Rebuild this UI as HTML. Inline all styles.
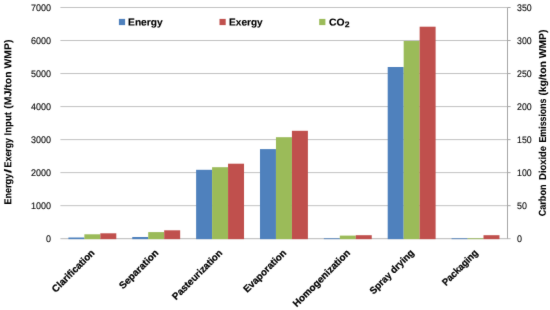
<!DOCTYPE html>
<html lang="en"><head><meta charset="utf-8"><title>Energy, Exergy and CO2 by process</title>
<style>html,body{margin:0;padding:0;background:#fff}body{width:550px;height:310px;overflow:hidden}svg{display:block}text{font-family:"Liberation Sans",sans-serif;fill:#111;text-rendering:geometricPrecision}.k{stroke:#111;stroke-width:0.15px}.b{font-weight:bold;fill:#000}.c{stroke:#000;stroke-width:0.25px}.t{stroke:#000;stroke-width:0.1px}.l{stroke:#000;stroke-width:0.15px}</style></head><body>
<svg width="550" height="310" viewBox="0 0 550 310">
<defs><filter id="soft" filterUnits="userSpaceOnUse" x="0" y="0" width="550" height="310" color-interpolation-filters="sRGB"><feConvolveMatrix order="3" kernelMatrix="0.01 0.06 0.01 0.06 0.72 0.06 0.01 0.06 0.01" divisor="1" edgeMode="duplicate" preserveAlpha="true"/></filter></defs>
<g filter="url(#soft)">
<rect width="550" height="310" fill="#fff"/>
<line x1="60.4" x2="507.6" y1="205.67" y2="205.67" stroke="#c2c2c2" stroke-width="1"/>
<line x1="60.4" x2="507.6" y1="172.64" y2="172.64" stroke="#c2c2c2" stroke-width="1"/>
<line x1="60.4" x2="507.6" y1="139.61" y2="139.61" stroke="#c2c2c2" stroke-width="1"/>
<line x1="60.4" x2="507.6" y1="106.59" y2="106.59" stroke="#c2c2c2" stroke-width="1"/>
<line x1="60.4" x2="507.6" y1="73.56" y2="73.56" stroke="#c2c2c2" stroke-width="1"/>
<line x1="60.4" x2="507.6" y1="40.53" y2="40.53" stroke="#c2c2c2" stroke-width="1"/>
<line x1="60.4" x2="507.6" y1="7.50" y2="7.50" stroke="#c2c2c2" stroke-width="1"/>
<line x1="60.4" x2="510.6" y1="238.7" y2="238.7" stroke="#b8b8b8" stroke-width="1"/>
<line x1="507.5" x2="507.5" y1="7.5" y2="238.7" stroke="#a6a6a6" stroke-width="1"/>
<line x1="507.6" x2="510.6" y1="205.67" y2="205.67" stroke="#a6a6a6" stroke-width="1"/>
<line x1="507.6" x2="510.6" y1="172.64" y2="172.64" stroke="#a6a6a6" stroke-width="1"/>
<line x1="507.6" x2="510.6" y1="139.61" y2="139.61" stroke="#a6a6a6" stroke-width="1"/>
<line x1="507.6" x2="510.6" y1="106.59" y2="106.59" stroke="#a6a6a6" stroke-width="1"/>
<line x1="507.6" x2="510.6" y1="73.56" y2="73.56" stroke="#a6a6a6" stroke-width="1"/>
<line x1="507.6" x2="510.6" y1="40.53" y2="40.53" stroke="#a6a6a6" stroke-width="1"/>
<line x1="507.6" x2="510.6" y1="7.50" y2="7.50" stroke="#a6a6a6" stroke-width="1"/>
<rect x="68.40" y="237.50" width="15.97" height="1.65" fill="#4f81bd"/>
<rect x="84.37" y="234.30" width="15.97" height="4.85" fill="#9bbb59"/>
<rect x="100.34" y="233.30" width="15.97" height="5.85" fill="#c0504d"/>
<rect x="132.26" y="237.00" width="15.97" height="2.15" fill="#4f81bd"/>
<rect x="148.23" y="232.10" width="15.97" height="7.05" fill="#9bbb59"/>
<rect x="164.20" y="230.30" width="15.97" height="8.85" fill="#c0504d"/>
<rect x="196.12" y="169.80" width="15.97" height="69.35" fill="#4f81bd"/>
<rect x="212.09" y="167.20" width="15.97" height="71.95" fill="#9bbb59"/>
<rect x="228.06" y="163.70" width="15.97" height="75.45" fill="#c0504d"/>
<rect x="259.98" y="149.10" width="15.97" height="90.05" fill="#4f81bd"/>
<rect x="275.95" y="137.20" width="15.97" height="101.95" fill="#9bbb59"/>
<rect x="291.92" y="130.80" width="15.97" height="108.35" fill="#c0504d"/>
<rect x="323.84" y="238.30" width="15.97" height="0.85" fill="#4f81bd"/>
<rect x="339.81" y="235.60" width="15.97" height="3.55" fill="#9bbb59"/>
<rect x="355.78" y="235.20" width="15.97" height="3.95" fill="#c0504d"/>
<rect x="387.70" y="67.00" width="15.97" height="172.15" fill="#4f81bd"/>
<rect x="403.67" y="41.00" width="15.97" height="198.15" fill="#9bbb59"/>
<rect x="419.64" y="26.70" width="15.97" height="212.45" fill="#c0504d"/>
<rect x="451.56" y="238.30" width="15.97" height="0.85" fill="#4f81bd"/>
<rect x="467.53" y="238.30" width="15.97" height="0.85" fill="#9bbb59"/>
<rect x="483.50" y="235.20" width="15.97" height="3.95" fill="#c0504d"/>
<text class="k" x="50.9" y="241.90" font-size="9.5" text-anchor="end" textLength="5.0" lengthAdjust="spacingAndGlyphs">0</text>
<text class="k" x="517.1" y="241.90" font-size="9.5" textLength="5.0" lengthAdjust="spacingAndGlyphs">0</text>
<text class="k" x="50.9" y="208.87" font-size="9.5" text-anchor="end" textLength="20.0" lengthAdjust="spacingAndGlyphs">1000</text>
<text class="k" x="517.1" y="208.87" font-size="9.5" textLength="9.9" lengthAdjust="spacingAndGlyphs">50</text>
<text class="k" x="50.9" y="175.84" font-size="9.5" text-anchor="end" textLength="20.0" lengthAdjust="spacingAndGlyphs">2000</text>
<text class="k" x="517.1" y="175.84" font-size="9.5" textLength="14.6" lengthAdjust="spacingAndGlyphs">100</text>
<text class="k" x="50.9" y="142.81" font-size="9.5" text-anchor="end" textLength="20.0" lengthAdjust="spacingAndGlyphs">3000</text>
<text class="k" x="517.1" y="142.81" font-size="9.5" textLength="14.6" lengthAdjust="spacingAndGlyphs">150</text>
<text class="k" x="50.9" y="109.79" font-size="9.5" text-anchor="end" textLength="20.0" lengthAdjust="spacingAndGlyphs">4000</text>
<text class="k" x="517.1" y="109.79" font-size="9.5" textLength="14.6" lengthAdjust="spacingAndGlyphs">200</text>
<text class="k" x="50.9" y="76.76" font-size="9.5" text-anchor="end" textLength="20.0" lengthAdjust="spacingAndGlyphs">5000</text>
<text class="k" x="517.1" y="76.76" font-size="9.5" textLength="14.6" lengthAdjust="spacingAndGlyphs">250</text>
<text class="k" x="50.9" y="43.73" font-size="9.5" text-anchor="end" textLength="20.0" lengthAdjust="spacingAndGlyphs">6000</text>
<text class="k" x="517.1" y="43.73" font-size="9.5" textLength="14.6" lengthAdjust="spacingAndGlyphs">300</text>
<text class="k" x="50.9" y="10.70" font-size="9.5" text-anchor="end" textLength="20.0" lengthAdjust="spacingAndGlyphs">7000</text>
<text class="k" x="517.1" y="10.70" font-size="9.5" textLength="14.6" lengthAdjust="spacingAndGlyphs">350</text>
<rect x="118.9" y="18.9" width="6.2" height="6.2" fill="#4f81bd"/>
<text class="b l" transform="translate(128.1,25.6) rotate(-0.06)" font-size="10" textLength="34.5" lengthAdjust="spacingAndGlyphs">Energy</text>
<rect x="219.5" y="18.9" width="6.2" height="6.2" fill="#c0504d"/>
<text class="b l" transform="translate(229.1,25.6) rotate(-0.06)" font-size="10" textLength="33.5" lengthAdjust="spacingAndGlyphs">Exergy</text>
<rect x="319.2" y="18.9" width="6.2" height="6.2" fill="#9bbb59"/>
<text class="b l" transform="translate(329.1,25.6) rotate(-0.06)" font-size="10" textLength="20.4" lengthAdjust="spacingAndGlyphs">CO<tspan font-size="8.3" dy="1.6">2</tspan></text>
<g transform="translate(11.35,0) rotate(-89.95)">
<text class="b t" x="-204.60" y="0" font-size="10.0" textLength="30.80" lengthAdjust="spacingAndGlyphs">Energy</text>
<text class="b t" x="-173.20" y="0" font-size="10.0" textLength="4.50" lengthAdjust="spacingAndGlyphs">/</text>
<text class="b t" x="-167.40" y="0" font-size="10.0" textLength="29.40" lengthAdjust="spacingAndGlyphs">Exergy</text>
<text class="b t" x="-135.50" y="0" font-size="10.0" textLength="23.50" lengthAdjust="spacingAndGlyphs">Input</text>
<text class="b t" x="-108.80" y="0" font-size="10.0" textLength="37.40" lengthAdjust="spacingAndGlyphs">(MJ/ton</text>
<text class="b t" x="-68.50" y="0" font-size="10.0" textLength="28.90" lengthAdjust="spacingAndGlyphs">WMP)</text>
</g>
<g transform="translate(546.05,0) rotate(-89.95)">
<text class="b t" x="-216.20" y="0" font-size="10.0" textLength="31.60" lengthAdjust="spacingAndGlyphs">Carbon</text>
<text class="b t" x="-179.90" y="0" font-size="10.0" textLength="33.90" lengthAdjust="spacingAndGlyphs">Dioxide</text>
<text class="b t" x="-142.50" y="0" font-size="10.0" textLength="44.00" lengthAdjust="spacingAndGlyphs">Emissions</text>
<text class="b t" x="-95.60" y="0" font-size="10.0" textLength="34.40" lengthAdjust="spacingAndGlyphs">(kg/ton</text>
<text class="b t" x="-58.30" y="0" font-size="10.0" textLength="28.80" lengthAdjust="spacingAndGlyphs">WMP)</text>
</g>
<text class="b c" transform="translate(95.24,253.5) rotate(-45)" text-anchor="end" font-size="9.8" textLength="55.7" lengthAdjust="spacingAndGlyphs">Clarification</text>
<text class="b c" transform="translate(159.13,253.5) rotate(-45)" text-anchor="end" font-size="9.8" textLength="51.0" lengthAdjust="spacingAndGlyphs">Separation</text>
<text class="b c" transform="translate(223.01,253.5) rotate(-45)" text-anchor="end" font-size="9.8" textLength="66.4" lengthAdjust="spacingAndGlyphs">Pasteurization</text>
<text class="b c" transform="translate(286.90,253.5) rotate(-45)" text-anchor="end" font-size="9.8" textLength="56.0" lengthAdjust="spacingAndGlyphs">Evaporation</text>
<text class="b c" transform="translate(350.79,253.5) rotate(-45)" text-anchor="end" font-size="9.8" textLength="76.5" lengthAdjust="spacingAndGlyphs">Homogenization</text>
<text class="b c" transform="translate(414.67,253.5) rotate(-45)" text-anchor="end" font-size="9.8" textLength="58.3" lengthAdjust="spacingAndGlyphs">Spray drying</text>
<text class="b c" transform="translate(478.56,253.5) rotate(-45)" text-anchor="end" font-size="9.8" textLength="46.2" lengthAdjust="spacingAndGlyphs">Packaging</text>
</g></svg></body></html>
